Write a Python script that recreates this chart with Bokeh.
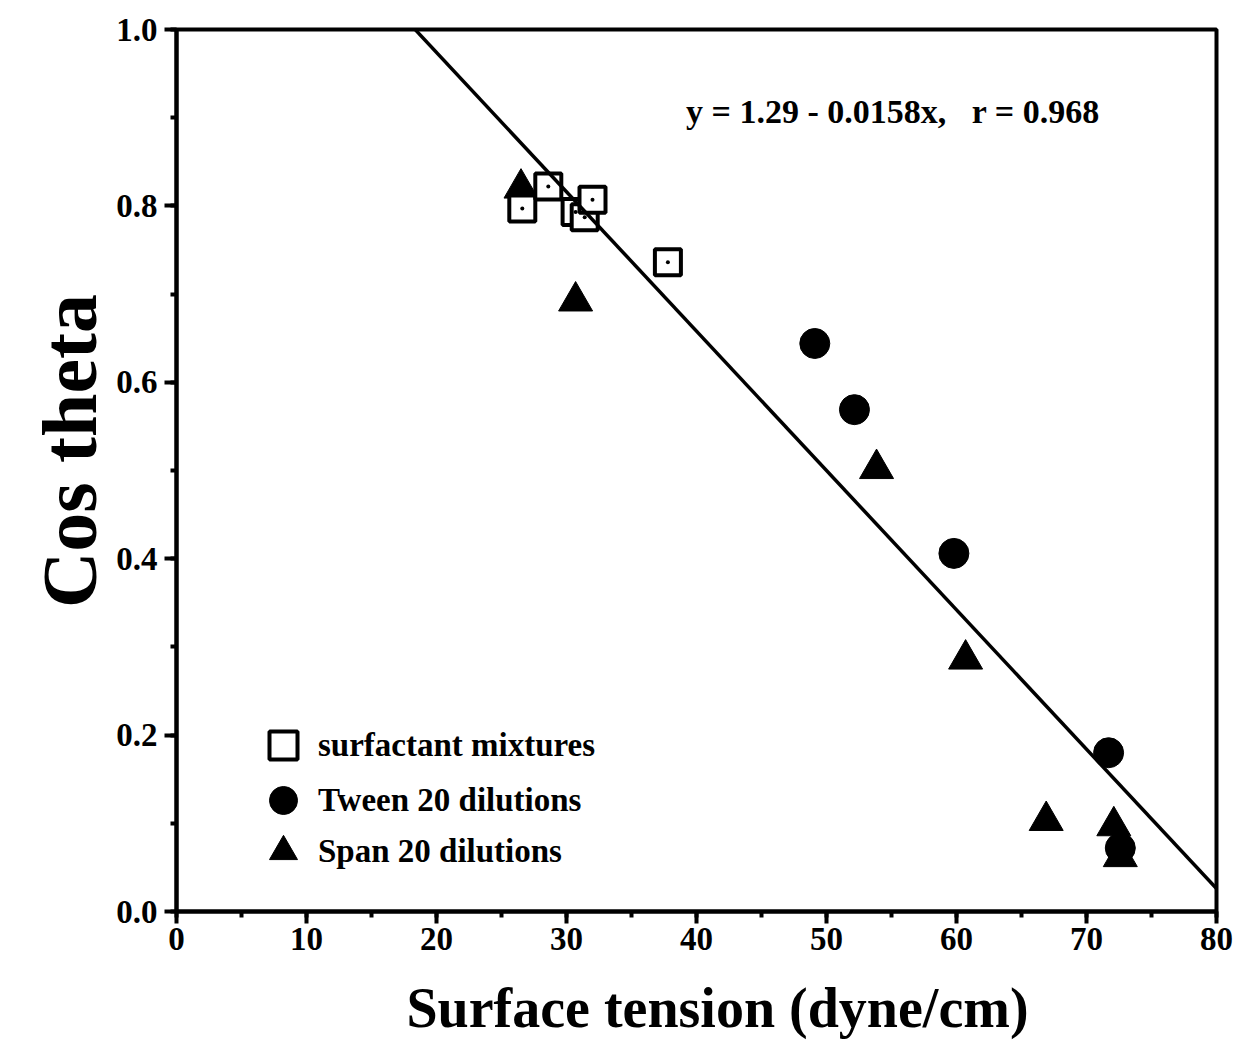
from bokeh.plotting import figure
from bokeh.models import (Range1d, SingleIntervalTicker, NumeralTickFormatter,
                          Legend, LegendItem, Label)
from bokeh.embed import file_html
from bokeh.resources import INLINE

# Surface tension (dyne/cm) vs. cos(theta)
mix_x = [26.6, 28.6, 30.7, 31.4, 32.0, 37.8]
mix_y = [0.797, 0.822, 0.793, 0.787, 0.807, 0.736]

tween_x = [49.1, 52.15, 59.8, 71.7, 72.6]
tween_y = [0.644, 0.569, 0.406, 0.180, 0.072]

span_x = [26.5, 30.7, 53.85, 60.7, 66.9, 72.1, 72.6]
span_y = [0.820, 0.692, 0.502, 0.286, 0.103, 0.097, 0.062]

fit_intercept = 1.29
fit_slope = -0.0158
fit_r = 0.968

series_labels = ["surfactant mixtures", "Tween 20 dilutions", "Span 20 dilutions"]

FONT = "Liberation Serif"
NBSP = "\u00a0"

p = figure(width=1253, height=1053, output_backend="svg", toolbar_location=None,
           x_range=Range1d(0, 80), y_range=Range1d(0, 1.0),
           min_border_left=176, min_border_right=37,
           min_border_top=29, min_border_bottom=142)

p.background_fill_color = "white"
p.border_fill_color = "white"
p.outline_line_color = "black"
p.outline_line_width = 4
p.grid.visible = False

# axes
p.xaxis.ticker = SingleIntervalTicker(interval=10, num_minor_ticks=2)
p.yaxis.ticker = SingleIntervalTicker(interval=0.2, num_minor_ticks=2)
p.yaxis.formatter = NumeralTickFormatter(format="0.0")

for ax in (p.xaxis, p.yaxis):
    ax.axis_line_width = 4
    ax.axis_line_color = "black"
    ax.major_tick_line_width = 4
    ax.minor_tick_line_width = 4
    ax.major_tick_out = 12
    ax.major_tick_in = 0
    ax.minor_tick_out = 6
    ax.minor_tick_in = 0
    ax.major_label_text_font = FONT
    ax.major_label_text_font_style = "bold"
    ax.major_label_text_font_size = "33px"
    ax.major_label_text_color = "black"
    ax.axis_label_text_font = FONT
    ax.axis_label_text_font_style = "bold"
    ax.axis_label_text_color = "black"

p.xaxis.major_label_standoff = 4
p.yaxis.major_label_standoff = 7

p.xaxis.axis_label = NBSP * 3 + "Surface tension (dyne/cm)"
p.xaxis.axis_label_text_font_size = "56px"
p.xaxis.axis_label_standoff = 24

p.yaxis.axis_label = NBSP * 2 + "Cos theta"
p.yaxis.axis_label_text_font_size = "78px"
p.yaxis.axis_label_standoff = 0

# data
r_span = p.scatter(span_x, span_y, marker="triangle", size=34,
                   fill_color="black", line_color="black", line_width=1)
r_mix = p.scatter(mix_x, mix_y, marker="square", size=26,
                  fill_color="white", line_color="black", line_width=4)
p.scatter(mix_x, mix_y, marker="circle", size=4,
          fill_color="black", line_color=None)
r_tween = p.scatter(tween_x, tween_y, marker="circle", size=30,
                    fill_color="black", line_color="black", line_width=1)

# least-squares line
fit_x = [0, 80]
fit_y = [fit_intercept + fit_slope * v for v in fit_x]
p.line(fit_x, fit_y, line_color="black", line_width=3.5)

# one legend block per series so the rows can sit close together
row_offsets = [131, 76, 25]
for label, rend, off in zip(series_labels, [r_mix, r_tween, r_span], row_offsets):
    lg = Legend(items=[LegendItem(label=label, renderers=[rend])], location=(72, off))
    lg.glyph_width = 70
    lg.glyph_height = 70
    lg.padding = 0
    lg.margin = 0
    lg.label_standoff = 0
    lg.border_line_color = None
    lg.background_fill_alpha = 0
    lg.label_text_font = FONT
    lg.label_text_font_style = "bold"
    lg.label_text_font_size = "33px"
    lg.label_text_color = "black"
    p.add_layout(lg, "center")

eq_text = (f"y = {fit_intercept:.2f} - {abs(fit_slope):.4f}x,"
           + NBSP * 3 + f"r = {fit_r:.3f}")
eq = Label(x=39.2, y=0.907, text=eq_text,
           text_font=FONT, text_font_style="bold", text_font_size="34px",
           text_color="black", text_baseline="alphabetic")
p.add_layout(eq)

open("out.html", "w").write(file_html(p, INLINE))
